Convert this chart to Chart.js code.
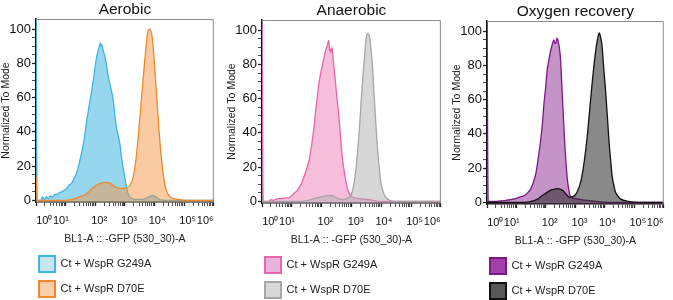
<!DOCTYPE html>
<html>
<head>
<meta charset="utf-8">
<script src="https://cdn.jsdelivr.net/npm/chart.js@4.4.1/dist/chart.umd.min.js"></script>
<style>
  html, body { margin: 0; padding: 0; background: #fff; overflow: hidden; }
  body { width: 673px; height: 300px; position: relative; }
  canvas { position: absolute; top: 0; }
</style>
</head>
<body>
<canvas id="aerobic" width="222" height="307" style="left:0px"></canvas>
<canvas id="anaerobic" width="223" height="307" style="left:226px;top:1px"></canvas>
<canvas id="recovery" width="221" height="307" style="left:451px;top:2px"></canvas>
<script>
// x values are positions on the display axis in decades (0 = left edge, 6 = right edge)
// y values are "Normalized To Mode" (0-100, first bin clipped at top)
const seriesLabels = ['Ct + WspR G249A', 'Ct + WspR D70E'];
const panelTitles = ['Aerobic', 'Anaerobic', 'Oxygen recovery'];
const xTickLabels = ['10⁰', '10¹', '10²', '10³', '10⁴', '10⁵', '10⁶'];
const xLabelPositions = [0.28, 0.84, 2.13, 3.14, 4.09, 5.12, 5.71];
const yLabelValues = [0, 20, 40, 60, 80, 100];
const xTitle = 'BL1-A :: -GFP (530_30)-A';
const yTitle = 'Normalized To Mode';

const aerobicG249A = [[0,106],[0.04,0],[0.16,0],[0.22,2],[0.28,0.5],[0.35,2.2],[0.41,1],[0.48,2.5],[0.56,2],[0.63,3.5],[0.72,3.5],[0.79,4.5],[0.88,5],[0.96,6],[1.04,7],[1.12,9],[1.2,10],[1.29,13],[1.37,16],[1.45,21],[1.54,28],[1.62,35],[1.7,45],[1.78,54],[1.87,63],[1.95,72],[2.01,80],[2.06,85],[2.12,89],[2.17,92],[2.2,90],[2.22,91],[2.26,88],[2.31,85],[2.38,79],[2.44,72],[2.52,66],[2.61,58],[2.66,50],[2.71,43],[2.77,38],[2.83,33],[2.88,26],[2.94,19],[3.0,13],[3.05,8],[3.1,4.5],[3.16,2],[3.24,1],[3.32,0.5],[3.6,0.5],[3.8,2],[3.93,2.8],[4.05,2],[4.2,0.3],[4.5,0],[6,0]];
const aerobicD70E = [[0,14],[0.04,0],[1.0,0],[1.23,0.5],[1.45,2],[1.68,3.5],[1.9,7],[2.11,9.5],[2.33,10.5],[2.5,10],[2.66,8],[2.83,7],[2.99,7],[3.16,8.5],[3.27,13],[3.38,25],[3.49,45],[3.6,68],[3.71,89],[3.78,99],[3.85,100],[3.93,94],[4.04,69],[4.15,41],[4.26,20],[4.37,7.5],[4.53,2],[4.8,0.5],[5.08,0],[6,0]];
const anaerobicG249A = [[0,106],[0.04,0],[0.22,0],[0.3,1],[0.38,0.5],[0.44,1],[0.55,1.5],[0.65,1.5],[0.76,2],[0.87,2],[0.98,3],[1.09,5],[1.17,6],[1.25,8],[1.34,11],[1.42,15],[1.5,19],[1.58,24],[1.64,30],[1.69,36],[1.75,44],[1.8,53],[1.86,62],[1.91,69],[1.97,75],[2.02,79],[2.08,84],[2.13,88],[2.19,91],[2.24,94],[2.27,88],[2.29,89],[2.32,87],[2.35,90],[2.4,81],[2.45,72],[2.5,63],[2.56,53],[2.62,41],[2.67,30],[2.72,22],[2.78,15],[2.83,10],[2.89,6],[3.0,3],[3.27,1.5],[3.6,1],[3.93,0],[6,0]];
const anaerobicD70E = [[0,0],[1.31,0],[1.64,1],[1.96,2.5],[2.15,3.2],[2.29,3.5],[2.4,3],[2.51,2],[2.73,1],[2.89,2],[2.98,3.5],[3.05,7],[3.1,12],[3.16,20],[3.21,30],[3.27,43],[3.32,57],[3.38,72],[3.43,83],[3.47,91],[3.5,96],[3.54,98],[3.58,97.5],[3.62,95],[3.66,88],[3.71,78],[3.76,62],[3.82,45],[3.87,32],[3.93,20],[3.98,12],[4.04,7],[4.1,4],[4.2,1.5],[4.42,0],[6,0]];
const recoveryG249A = [[0,106],[0.04,0.5],[0.28,0.5],[0.45,0.8],[0.61,1],[0.78,1.5],[0.94,2],[1.1,3],[1.27,4],[1.38,5.5],[1.49,8],[1.58,12],[1.66,17],[1.74,26],[1.82,36],[1.88,46],[1.93,57],[1.99,67],[2.04,77],[2.1,83],[2.15,88],[2.21,92],[2.27,95],[2.3,93],[2.34,93],[2.37,96],[2.4,95],[2.45,91],[2.49,85],[2.53,72],[2.57,58],[2.61,44],[2.65,31],[2.69,21],[2.73,13],[2.78,7],[2.82,4],[2.92,2.5],[3.04,2],[3.48,1],[4.14,0],[6,0]];
const recoveryD70E = [[0,0],[1.27,0],[1.6,1],[1.75,2.2],[1.88,4],[2.02,5.5],[2.15,7],[2.26,7.5],[2.38,8],[2.5,7.5],[2.6,6.5],[2.7,4.5],[2.8,3],[2.89,3.2],[2.98,4],[3.07,6.5],[3.15,10],[3.23,16],[3.31,25],[3.4,38],[3.48,53],[3.56,68],[3.65,83],[3.71,91],[3.76,96],[3.81,99],[3.85,97],[3.9,92],[3.96,79],[4.03,64],[4.09,49],[4.14,36],[4.2,24],[4.25,15],[4.31,9.5],[4.36,6],[4.45,3.5],[4.53,2],[4.81,0.5],[5.14,0],[6,0]];

const FONT = '"Liberation Sans", Arial, Helvetica, sans-serif';

// tick marks: decades plus log minor ticks
const xTickPositions = [];
for (let d = 0; d <= 6; d++) {
  xTickPositions.push(d);
  if (d < 6) for (let k = 2; k <= 9; k++) xTickPositions.push(d + Math.log10(k));
}
const yTickPositions = [];
for (let v = 0; v <= 100; v += 5) yTickPositions.push(v);

// Title over the plot area and the thin grey frame on top/right
const panelTitle = {
  id: 'panelTitle',
  afterDraw(chart, args, opts) {
    const { ctx, chartArea } = chart;
    ctx.save();
    ctx.fillStyle = '#111';
    ctx.font = `15.5px ${FONT}`;
    ctx.textAlign = 'center';
    ctx.textBaseline = 'middle';
    ctx.fillText(opts.text, (chartArea.left + chartArea.right) / 2, 10);
    ctx.strokeStyle = '#8c8c8c';
    ctx.lineWidth = 1;
    ctx.beginPath();
    ctx.moveTo(chartArea.left, chartArea.top + 0.5);
    ctx.lineTo(chartArea.right - 0.5, chartArea.top + 0.5);
    ctx.lineTo(chartArea.right - 0.5, chartArea.bottom);
    ctx.stroke();
    ctx.restore();
  }
};

// Legend sits a little left of the plot area edge in the original
const legendNudge = {
  id: 'legendNudge',
  afterLayout(chart) {
    chart.legend.left -= 6;
    chart.legend.right -= 6;
  }
};

const toPoints = pairs => pairs.map(([x, y]) => ({ x, y }));

function makePanel(canvasId, title, g249a, d70e, style) {
  const datasets = [
    {
      label: seriesLabels[0], data: toPoints(g249a), order: 2,
      borderColor: style.line[0], backgroundColor: style.fill[0], legendFill: style.legend[0]
    },
    {
      label: seriesLabels[1], data: toPoints(d70e), order: 1,
      borderColor: style.line[1], backgroundColor: style.fill[1], legendFill: style.legend[1]
    }
  ].map(ds => ({ ...ds, borderWidth: 1.3, pointRadius: 0, fill: 'start', cubicInterpolationMode: 'monotone' }));

  return new Chart(document.getElementById(canvasId).getContext('2d'), {
    type: 'line',
    data: { datasets },
    options: {
      responsive: false,
      animation: false,
      events: [],
      layout: { padding: { top: 19, right: 4, left: 0, bottom: 0 } },
      scales: {
        x: {
          type: 'linear', min: 0, max: 6, position: 'bottom', weight: 0,
          afterBuildTicks: s => { s.ticks = xTickPositions.map(v => ({ value: v })); },
          ticks: { display: false },
          grid: {
            drawOnChartArea: false, tickLength: 4, tickColor: '#222',
            tickWidth: c => Number.isInteger(c.tick.value) ? 1.3 : 0.8
          },
          border: { color: '#111', width: 1.5 },
          afterFit: s => { s.height = 4; }
        },
        xl: {
          type: 'linear', min: 0, max: 6, position: 'bottom', weight: 1,
          afterBuildTicks: s => { s.ticks = xLabelPositions.map(v => ({ value: v })); },
          ticks: {
            autoSkip: false, maxRotation: 0, minRotation: 0, padding: 8,
            color: '#111', font: { family: FONT, size: 11 },
            callback: (v, i) => xTickLabels[i]
          },
          grid: { display: false, drawTicks: false },
          border: { display: false },
          title: {
            display: true, text: xTitle, color: '#222',
            font: { family: FONT, size: 10.5 }, padding: { top: 0, bottom: 2 }
          },
          afterFit: s => { s.height = 41; }
        },
        y: {
          min: -1, max: 106,
          afterBuildTicks: s => { s.ticks = yTickPositions.map(v => ({ value: v })); },
          ticks: {
            autoSkip: false, padding: 1, color: '#111', font: { family: FONT, size: 13 },
            callback: v => yLabelValues.includes(v) ? v : ''
          },
          grid: {
            drawOnChartArea: false, tickLength: 4, tickColor: '#222',
            tickWidth: c => c.tick.value % 20 === 0 ? 1.3 : 0.8
          },
          border: { color: '#111', width: 1.5 },
          title: {
            display: true, text: yTitle, color: '#222',
            font: { family: FONT, size: 10.5 }, padding: 0
          },
          afterFit: s => { s.width = 36; }
        }
      },
      plugins: {
        panelTitle: { text: title },
        tooltip: { enabled: false },
        legend: {
          position: 'bottom', align: 'start', fullSize: false,
          labels: {
            boxWidth: 16, boxHeight: 16, padding: 9, color: '#222',
            font: { family: FONT, size: 11 },
            sort: (a, b) => a.datasetIndex - b.datasetIndex,
            generateLabels: chart => Chart.defaults.plugins.legend.labels.generateLabels(chart).map(item => ({
              ...item,
              fillStyle: chart.data.datasets[item.datasetIndex].legendFill,
              lineWidth: 2
            }))
          }
        }
      }
    },
    plugins: [panelTitle, legendNudge]
  });
}

makePanel('aerobic', panelTitles[0], aerobicG249A, aerobicD70E, {
  line: ['#3db5e0', '#f0882c'],
  fill: ['rgba(65,182,224,0.55)', 'rgba(245,150,70,0.5)'],
  legend: ['#c6e5f2', '#fbcfa9']
});
makePanel('anaerobic', panelTitles[1], anaerobicG249A, anaerobicD70E, {
  line: ['#e866a8', '#a6a6a6'],
  fill: ['rgba(236,110,175,0.45)', 'rgba(175,175,175,0.5)'],
  legend: ['#e9b3e0', '#d8d8d8']
});
makePanel('recovery', panelTitles[2], recoveryG249A, recoveryD70E, {
  line: ['#7a1a82', '#111111'],
  fill: ['rgba(140,40,145,0.5)', 'rgba(40,40,40,0.55)'],
  legend: ['#a23ea8', '#585858']
});
</script>
</body>
</html>
